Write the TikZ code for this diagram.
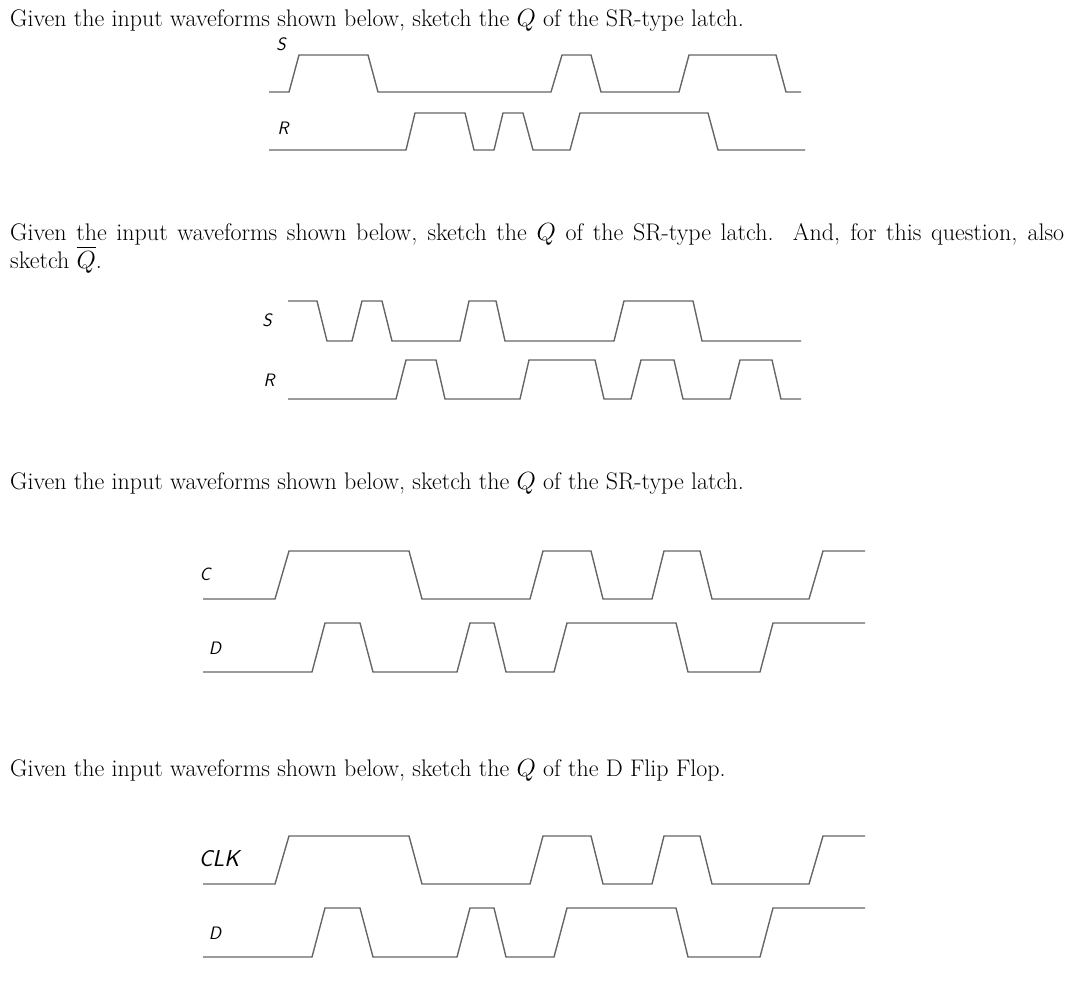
\documentclass[tikz,border=0pt]{standalone}
\usepackage{amsmath}
\usepackage{tikz}
\begin{document}
\begin{tikzpicture}[x=1pt,y=-1pt,
    wave/.style={line width=1.4pt,black!60},
    qtext/.style={anchor=base west,inner sep=0pt,font=\fontsize{24}{28}\selectfont},
    sig/.style={inner sep=0pt,font=\sffamily\itshape\fontsize{18}{20}\selectfont},
    bigsig/.style={inner sep=0pt,font=\sffamily\itshape\fontsize{23}{26}\selectfont}]
    \useasboundingbox (0,0) rectangle (1084,986);
    % Question 1
    \node[qtext] (q1) at (10,26) {Given the input waveforms shown below, sketch the $Q$ of the SR-type latch.};
    \node[sig] (s1) at (281,44) {S};
    \node[sig] (r1) at (283,128) {R};
    \draw[wave] plot coordinates {(269,92) (289,92) (299,55) (368,55) (378,92) (551,92) (562,55) (591,55) (601,92) (679,92) (689,55) (776,55) (786,92) (801,92)};
    \draw[wave] plot coordinates {(269,150) (406,150) (415,113) (465,113) (474,150) (494,150) (503,113) (523,113) (533,150) (570,150) (580,113) (708,113) (718,150) (805,150)};
    % Question 2
    \node[qtext] (q2) at (10,240) {\makebox[1054pt][s]{Given the input waveforms shown below, sketch the $Q$ of the SR-type latch.\ \ And, for this question, also}};
    \node[qtext] (q2b) at (10,268) {sketch $\overline{Q}$.};
    \node[sig] (s2) at (267,320) {S};
    \node[sig] (r2) at (269,380) {R};
    \draw[wave] plot coordinates {(288,301) (317,301) (327,341) (352,341) (362,301) (382,301) (392,341) (460,341) (469,301) (496,301) (505,341) (614,341) (624,301) (693,301) (702,341) (801,341)};
    \draw[wave] plot coordinates {(288,399) (396,399) (406,360) (436,360) (445,399) (520,399) (529,360) (595,360) (604,399) (631,399) (641,360) (674,360) (683,399) (730,399) (740,360) (772,360) (781,399) (801,399)};
    % Question 3
    \node[qtext] (q3) at (10,489) {Given the input waveforms shown below, sketch the $Q$ of the SR-type latch.};
    \node[sig] (c3) at (205,574) {C};
    \node[sig] (d3) at (215,648) {D};
    \foreach \dy/\nm in {0/c,285/k} {
      \draw[wave] plot coordinates {(203,599+\dy) (275,599+\dy) (289,551+\dy) (409,551+\dy) (422,599+\dy) (530,599+\dy) (543,551+\dy) (591,551+\dy) (603,599+\dy) (652,599+\dy) (664,551+\dy) (700,551+\dy) (712,599+\dy) (809,599+\dy) (823,551+\dy) (865,551+\dy)};
      \draw[wave] plot coordinates {(203,672+\dy) (312,672+\dy) (325,623+\dy) (360,623+\dy) (373,672+\dy) (457,672+\dy) (470,623+\dy) (494,623+\dy) (506,672+\dy) (554,672+\dy) (567,623+\dy) (676,623+\dy) (688,672+\dy) (760,672+\dy) (773,623+\dy) (865,623+\dy)};
    }
    % Question 4
    \node[qtext] (q4) at (10,776) {Given the input waveforms shown below, sketch the $Q$ of the D Flip Flop.};
    \node[bigsig] (clk) at (219,859) {CLK};
    \node[sig] (d4) at (215,933) {D};
\end{tikzpicture}
\end{document}
